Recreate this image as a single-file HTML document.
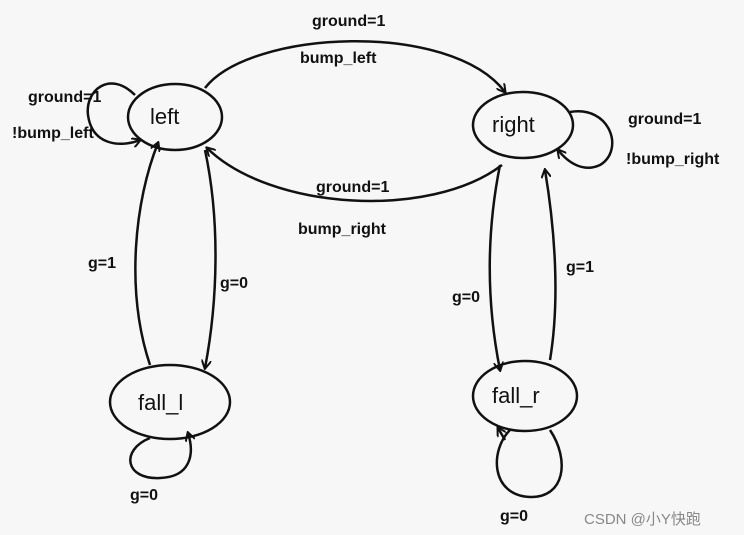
<!DOCTYPE html>
<html><head><meta charset="utf-8"><style>
html,body{margin:0;padding:0;background:#f7f7f7}
svg{display:block}
text{font-family:"Liberation Sans","Noto Sans CJK SC",sans-serif;fill:#111}
.l{font-size:16px;font-weight:bold}
.n{font-size:22px}
</style></head><body>
<svg width="744" height="535" viewBox="0 0 744 535" xmlns="http://www.w3.org/2000/svg">
<defs><marker id="a" markerWidth="10" markerHeight="10" refX="8" refY="5" orient="auto" markerUnits="userSpaceOnUse"><path d="M0,0 L9,5 L0,10" fill="none" stroke="#111" stroke-width="2"/></marker></defs>
<rect width="744" height="535" fill="#f7f7f7"/>
<g fill="none" stroke="#111" stroke-width="2.5">
<ellipse cx="175" cy="117" rx="47" ry="33"/>
<ellipse cx="523" cy="125" rx="50" ry="33"/>
<ellipse cx="170" cy="402" rx="60" ry="37"/>
<ellipse cx="525" cy="396" rx="52" ry="35"/>
<path d="M205,88 C250,30 450,20 505,92" marker-end="url(#a)"/>
<path d="M502,165 C430,220 270,210 207,148" marker-end="url(#a)"/>
<path d="M150,365 C125,290 135,200 158,143" marker-end="url(#a)"/>
<path d="M205,150 C220,220 218,300 205,368" marker-end="url(#a)"/>
<path d="M500,165 C485,240 488,310 500,370" marker-end="url(#a)"/>
<path d="M550,360 C560,300 555,230 545,170" marker-end="url(#a)"/>
<path d="M135,95 C110,70 85,90 88,115 C92,145 120,148 140,140" marker-end="url(#a)"/>
<path d="M570,112 C610,105 625,150 600,165 C585,172 570,165 558,150" marker-end="url(#a)"/>
<path d="M150,438 C120,450 125,480 160,478 C190,477 195,455 188,433" marker-end="url(#a)"/>
<path d="M510,430 C490,450 490,495 530,497 C565,498 570,460 550,430"/>
<path d="M505,440 L498,428" marker-end="url(#a)"/>
</g>
<text class="n" x="150" y="124">left</text>
<text class="n" x="492" y="132">right</text>
<text class="n" x="138" y="410">fall_l</text>
<text class="n" x="492" y="403">fall_r</text>
<text class="l" x="312" y="26">ground=1</text>
<text class="l" x="300" y="63">bump_left</text>
<text class="l" x="28" y="102">ground=1</text>
<text class="l" x="12" y="138">!bump_left</text>
<text class="l" x="628" y="124">ground=1</text>
<text class="l" x="626" y="164">!bump_right</text>
<text class="l" x="316" y="192">ground=1</text>
<text class="l" x="298" y="234">bump_right</text>
<text class="l" x="88" y="268">g=1</text>
<text class="l" x="220" y="288">g=0</text>
<text class="l" x="452" y="302">g=0</text>
<text class="l" x="566" y="272">g=1</text>
<text class="l" x="130" y="500">g=0</text>
<text class="l" x="500" y="521">g=0</text>
<text x="584" y="524" style="font-size:15px;fill:#888">CSDN @小Y快跑</text>
</svg>
</body></html>
